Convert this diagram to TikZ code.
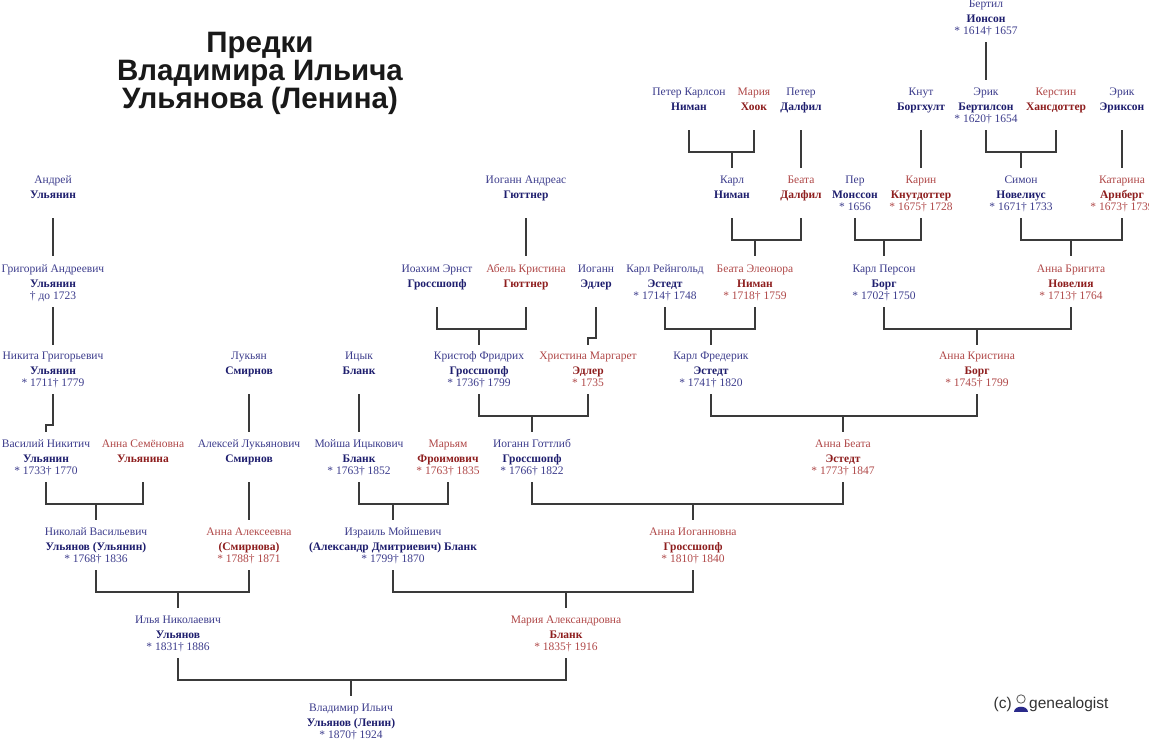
\documentclass[tikz,border=0pt]{standalone}
\usepackage{fontspec}
\setmainfont{Liberation Serif}
\setsansfont{Liberation Sans}
\definecolor{bfirst}{HTML}{3C3C8C}
\definecolor{bsurc}{HTML}{1E1E6E}
\definecolor{rfirst}{HTML}{B04848}
\definecolor{rsurc}{HTML}{8E1E1E}
\definecolor{linec}{HTML}{3A3A3A}
\definecolor{iconblue}{HTML}{2A2A8A}
\newcommand\psize{\fontsize{11.5}{12.5}\selectfont}
\newcommand\bsur[1]{{\bfseries\color{bsurc}#1}}
\newcommand\rsur[1]{{\bfseries\color{rsurc}#1}}
\newcommand\cpl[4]{\draw[conn] (#1 |- 0,{#4+39}) -- (#1 |- 0,{#4+61}) -- (#2 |- 0,{#4+61}) -- (#2 |- 0,{#4+39});
  \draw[conn] (#3 |- 0,{#4+61}) -- (#3 |- 0,{#4+77});}
\newcommand\sgl[3]{\draw[conn] (#1 |- 0,{#3+39}) -- (#1 |- 0,{#3+77}) coordinate (#2-in);}
\newcommand\jog[3]{\draw[conn] (#1 |- 0,{#3+39}) -- (#1 |- 0,{#3+70}) -| (#2 |- 0,{#3+77});}
\tikzset{
  pb/.style={align=center, inner sep=0pt, anchor=north, yshift=5pt, text=bfirst, font=\psize},
  pr/.style={pb, text=rfirst},
  conn/.style={draw=linec, line width=1.2pt},
  ttl/.style={align=center, inner sep=0pt, anchor=north, font=\sffamily\bfseries\fontsize{29.5}{28}\selectfont, text=black!90},
  cr/.style={inner sep=0pt, font=\sffamily\fontsize{15.5}{18}\selectfont, text=black!80}
}
\begin{document}
\begin{tikzpicture}[x=1pt,y=-1pt]
\clip (0,0) rectangle (1149,744);
\fill[white] (0,0) rectangle (1149,744);
% title
\node[ttl] (title) at (260,32) {\rule{0pt}{20pt}Предки\\Владимира Ильича\\Ульянова (Ленина)};
% rows: 3, 91, 179, 268, 355, 443, 531, 619, 707
\node[pb] (andrej) at (53,179) {\rule{0pt}{9pt}Андрей\\[2.5pt]\bsur{Ульянин}};
\node[pb] (grigorij) at (53,268) {\rule{0pt}{9pt}Григорий Андреевич\\[2.5pt]\bsur{Ульянин}\\† до 1723};
\node[pb] (nikita) at (53,355) {\rule{0pt}{9pt}Никита Григорьевич\\[2.5pt]\bsur{Ульянин}\\* 1711† 1779};
\node[pb] (vasilij) at (46,443) {\rule{0pt}{9pt}Василий Никитич\\[2.5pt]\bsur{Ульянин}\\* 1733† 1770};
\node[pr] (annasem) at (143,443) {\rule{0pt}{9pt}Анна Семёновна\\[2.5pt]\rsur{Ульянина}};
\node[pb] (lukjan) at (249,355) {\rule{0pt}{9pt}Лукьян\\[2.5pt]\bsur{Смирнов}};
\node[pb] (aleksej) at (249,443) {\rule{0pt}{9pt}Алексей Лукьянович\\[2.5pt]\bsur{Смирнов}};
\node[pb] (icyk) at (359,355) {\rule{0pt}{9pt}Ицык\\[2.5pt]\bsur{Бланк}};
\node[pb] (mojsha) at (359,443) {\rule{0pt}{9pt}Мойша Ицыкович\\[2.5pt]\bsur{Бланк}\\* 1763† 1852};
\node[pr] (marjam) at (448,443) {\rule{0pt}{9pt}Марьям\\[2.5pt]\rsur{Фроимович}\\* 1763† 1835};
\node[pb] (gottlib) at (532,443) {\rule{0pt}{9pt}Иоганн Готтлиб\\[2.5pt]\bsur{Гроссшопф}\\* 1766† 1822};
\node[pr] (annabeata) at (843,443) {\rule{0pt}{9pt}Анна Беата\\[2.5pt]\rsur{Эстедт}\\* 1773† 1847};
\node[pb] (nikolaj) at (96,531) {\rule{0pt}{9pt}Николай Васильевич\\[2.5pt]\bsur{Ульянов (Ульянин)}\\* 1768† 1836};
\node[pr] (annaal) at (249,531) {\rule{0pt}{9pt}Анна Алексеевна\\[2.5pt]\rsur{(Смирнова)}\\* 1788† 1871};
\node[pb] (izrail) at (393,531) {\rule{0pt}{9pt}Израиль Мойшевич\\[2.5pt]\bsur{(Александр Дмитриевич) Бланк}\\* 1799† 1870};
\node[pr] (annaiog) at (693,531) {\rule{0pt}{9pt}Анна Иоганновна\\[2.5pt]\rsur{Гроссшопф}\\* 1810† 1840};
\node[pb] (ilja) at (178,619) {\rule{0pt}{9pt}Илья Николаевич\\[2.5pt]\bsur{Ульянов}\\* 1831† 1886};
\node[pr] (marija) at (566,619) {\rule{0pt}{9pt}Мария Александровна\\[2.5pt]\rsur{Бланк}\\* 1835† 1916};
\node[pb] (vladimir) at (351,707) {\rule{0pt}{9pt}Владимир Ильич\\[2.5pt]\bsur{Ульянов (Ленин)}\\* 1870† 1924};
\node[pb] (andreas) at (526,179) {\rule{0pt}{9pt}Иоганн Андреас\\[2.5pt]\bsur{Гюттнер}};
\node[pb] (ioachim) at (437,268) {\rule{0pt}{9pt}Иоахим Эрнст\\[2.5pt]\bsur{Гроссшопф}};
\node[pr] (abel) at (526,268) {\rule{0pt}{9pt}Абель Кристина\\[2.5pt]\rsur{Гюттнер}};
\node[pb] (edler) at (596,268) {\rule{0pt}{9pt}Иоганн\\[2.5pt]\bsur{Эдлер}};
\node[pb] (kristof) at (479,355) {\rule{0pt}{9pt}Кристоф Фридрих\\[2.5pt]\bsur{Гроссшопф}\\* 1736† 1799};
\node[pr] (kristina) at (588,355) {\rule{0pt}{9pt}Христина Маргарет\\[2.5pt]\rsur{Эдлер}\\* 1735};
\node[pb] (reingold) at (665,268) {\rule{0pt}{9pt}Карл Рейнгольд\\[2.5pt]\bsur{Эстедт}\\* 1714† 1748};
\node[pr] (eleonora) at (755,268) {\rule{0pt}{9pt}Беата Элеонора\\[2.5pt]\rsur{Ниман}\\* 1718† 1759};
\node[pb] (frederik) at (711,355) {\rule{0pt}{9pt}Карл Фредерик\\[2.5pt]\bsur{Эстедт}\\* 1741† 1820};
\node[pr] (annakr) at (977,355) {\rule{0pt}{9pt}Анна Кристина\\[2.5pt]\rsur{Борг}\\* 1745† 1799};
\node[pb] (peterk) at (689,91) {\rule{0pt}{9pt}Петер Карлсон\\[2.5pt]\bsur{Ниман}};
\node[pr] (marijah) at (754,91) {\rule{0pt}{9pt}Мария\\[2.5pt]\rsur{Хоок}};
\node[pb] (peterd) at (801,91) {\rule{0pt}{9pt}Петер\\[2.5pt]\bsur{Далфил}};
\node[pb] (karln) at (732,179) {\rule{0pt}{9pt}Карл\\[2.5pt]\bsur{Ниман}};
\node[pr] (beatad) at (801,179) {\rule{0pt}{9pt}Беата\\[2.5pt]\rsur{Далфил}};
\node[pb] (bertil) at (986,3) {\rule{0pt}{9pt}Бертил\\[2.5pt]\bsur{Ионсон}\\* 1614† 1657};
\node[pb] (knut) at (921,91) {\rule{0pt}{9pt}Кнут\\[2.5pt]\bsur{Боргхулт}};
\node[pb] (erikb) at (986,91) {\rule{0pt}{9pt}Эрик\\[2.5pt]\bsur{Бертилсон}\\* 1620† 1654};
\node[pr] (kerstin) at (1056,91) {\rule{0pt}{9pt}Керстин\\[2.5pt]\rsur{Хансдоттер}};
\node[pb] (erike) at (1122,91) {\rule{0pt}{9pt}Эрик\\[2.5pt]\bsur{Эриксон}};
\node[pb] (per) at (855,179) {\rule{0pt}{9pt}Пер\\[2.5pt]\bsur{Монссон}\\* 1656};
\node[pr] (karin) at (921,179) {\rule{0pt}{9pt}Карин\\[2.5pt]\rsur{Кнутдоттер}\\* 1675† 1728};
\node[pb] (simon) at (1021,179) {\rule{0pt}{9pt}Симон\\[2.5pt]\bsur{Новелиус}\\* 1671† 1733};
\node[pr] (katarina) at (1122,179) {\rule{0pt}{9pt}Катарина\\[2.5pt]\rsur{Арнберг}\\* 1673† 1739};
\node[pb] (karlp) at (884,268) {\rule{0pt}{9pt}Карл Персон\\[2.5pt]\bsur{Борг}\\* 1702† 1750};
\node[pr] (annabr) at (1071,268) {\rule{0pt}{9pt}Анна Бригита\\[2.5pt]\rsur{Новелия}\\* 1713† 1764};
% connectors
\sgl{andrej}{grigorij}{179}
\sgl{grigorij}{nikita}{268}
\jog{nikita}{vasilij}{355}
\sgl{lukjan}{aleksej}{355}
\sgl{icyk}{mojsha}{355}
\cpl{vasilij}{annasem}{nikolaj}{443}
\sgl{aleksej}{annaal}{443}
\cpl{mojsha}{marjam}{izrail}{443}
\cpl{gottlib}{annabeata}{annaiog}{443}
\cpl{nikolaj}{annaal}{ilja}{531}
\cpl{izrail}{annaiog}{marija}{531}
\cpl{ilja}{marija}{vladimir}{619}
\sgl{andreas}{abel}{179}
\cpl{ioachim}{abel}{kristof}{268}
\jog{edler}{kristina}{268}
\cpl{kristof}{kristina}{gottlib}{355}
\cpl{peterk}{marijah}{karln}{91}
\sgl{peterd}{beatad}{91}
\cpl{karln}{beatad}{eleonora}{179}
\cpl{reingold}{eleonora}{frederik}{268}
\cpl{frederik}{annakr}{annabeata}{355}
\sgl{bertil}{erikb}{3}
\sgl{knut}{karin}{91}
\cpl{erikb}{kerstin}{simon}{91}
\sgl{erike}{katarina}{91}
\cpl{per}{karin}{karlp}{179}
\cpl{simon}{katarina}{annabr}{179}
\cpl{karlp}{annabr}{annakr}{268}
% copyright
\node[cr, anchor=east] (copy) at (1012,704) {(c)};
\node[cr, anchor=west] (gen) at (1029,704) {genealogist};
\draw[black!60, line width=0.9pt] (1021,699) circle (4.2);
\fill[iconblue] (1014,712) .. controls (1014,704.5) and (1028,704.5) .. (1028,712) -- cycle;
\end{tikzpicture}
\end{document}
